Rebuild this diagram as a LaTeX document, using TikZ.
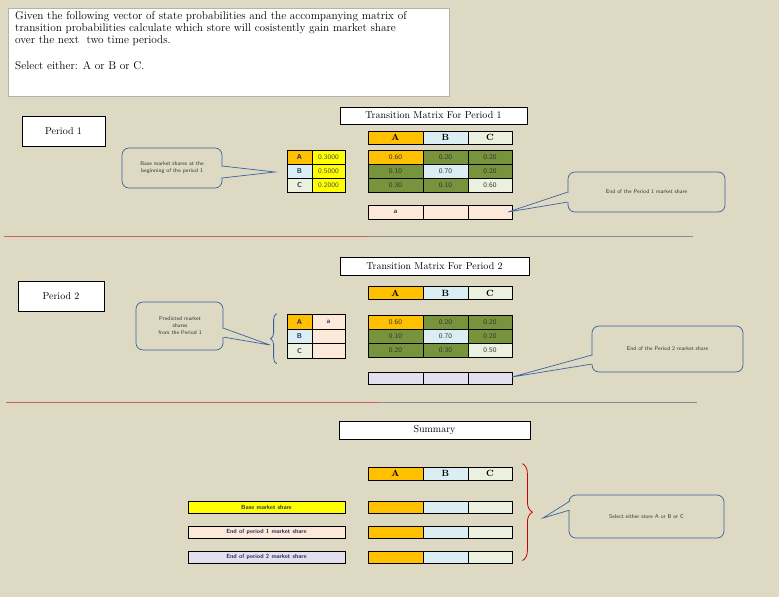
\documentclass[tikz,border=0pt]{standalone}
\usepackage{tikz}
\usetikzlibrary{decorations.pathreplacing}
\definecolor{bg}{HTML}{DDD9C3}
\definecolor{orng}{HTML}{FFC000}
\definecolor{ltblue}{HTML}{DAEEF3}
\definecolor{ltgreen}{HTML}{EBF1DE}
\definecolor{grn}{HTML}{77933C}
\definecolor{yell}{HTML}{FFFF00}
\definecolor{peach}{HTML}{FDE9D9}
\definecolor{lav}{HTML}{E4DFEC}
\definecolor{calblue}{HTML}{3A63A0}
\definecolor{sepgray}{HTML}{8C8C8C}
\definecolor{sepred}{HTML}{D06060}
\definecolor{navy}{HTML}{1F2F5F}
\tikzset{
  cell/.style={draw=black, line width=0.8pt, minimum height=13pt, inner sep=0pt, font=\sffamily\bfseries\fontsize{7}{8}\selectfont, text=navy},
  num/.style={cell, minimum height=14pt, font=\sffamily\fontsize{7}{8}\selectfont, text=black!80},
  title/.style={draw=black, fill=white, inner sep=0pt, font=\fontsize{10}{11}\selectfont},
  hdr/.style={cell, font=\bfseries\fontsize{9}{10}\selectfont, text=black},
  note/.style={font=\sffamily\fontsize{5.5}{7}\selectfont, align=center, text=black!80},
  callout/.style={draw=calblue, fill=bg, line width=0.7pt}
}
\begin{document}
\begin{tikzpicture}[x=1pt, y=-1pt]
\fill[bg] (0,0) rectangle (779,597);
\useasboundingbox (0,0) rectangle (779,597);

% question
\node[draw=black!30, fill=white, minimum width=441pt, minimum height=88pt, anchor=north west] (quest) at (8,8) {};
\node[anchor=north west, align=left, inner sep=0pt, font=\fontsize{11.3}{12}\selectfont] (qtext) at (15,11)
 {Given the following vector of state probabilities and the accompanying matrix of\\
  transition probabilities calculate which store will cosistently gain market share\\
  over the next \ two time periods.\\[14pt]
  Select either: A or B or C.};

% periods and titles
\node[title, minimum width=83pt, minimum height=30pt] (per1) at (63.5,131) {Period 1};
\node[title, minimum width=86pt, minimum height=30pt] (per2) at (61,296) {Period 2};
\node[title, minimum width=187pt, minimum height=17pt] (tit1) at (433.5,115.5) {Transition Matrix For Period 1};
\node[title, minimum width=189pt, minimum height=18pt] (tit2) at (434.5,266) {Transition Matrix For Period 2};
\node[title, minimum width=191pt, minimum height=18pt] (summ) at (434.5,430) {Summary};

% headers
\foreach \n/\y in {h1/137.5, h2/293, h3/473.5}{
  \node[hdr, fill=orng, minimum width=55pt] (\n a) at (395.5,\y) {A};
  \node[hdr, fill=ltblue, minimum width=45pt] (\n b) at (445.5,\y) {B};
  \node[hdr, fill=ltgreen, minimum width=44pt] (\n c) at (490,\y) {C};
}

% transition matrices
\foreach \m/\y/\r in {m1/150/{0.60,0.20,0.20,0.10,0.70,0.20,0.30,0.10,0.60},
                      m2/315/{0.60,0.20,0.20,0.10,0.70,0.20,0.20,0.30,0.50}}{
  \foreach [count=\k from 0] \v in \r {
    \pgfmathtruncatemacro{\row}{int(\k/3)}
    \pgfmathtruncatemacro{\col}{mod(\k,3)}
    \pgfmathsetmacro{\xx}{\col==0 ? 395.5 : (\col==1 ? 445.5 : 490)}
    \pgfmathsetmacro{\ww}{\col==0 ? 55 : (\col==1 ? 45 : 44)}
    \pgfmathtruncatemacro{\kind}{\row==\col ? \col : 3}
    \ifcase\kind \def\fc{orng}\or \def\fc{ltblue}\or \def\fc{ltgreen}\else \def\fc{grn}\fi
    \node[num, fill=\fc, minimum width=\ww pt] (\m-\k) at (\xx,\y+7+14*\row) {\v};
  }
}

% state vectors
\foreach \l/\f/\v/\i in {A/orng/0.3000/0, B/ltblue/0.5000/1, C/ltgreen/0.2000/2}{
  \node[cell, fill=\f, minimum width=25pt, minimum height=14pt] (v1\l) at (299.5,157+14*\i) {\l};
  \node[num, fill=yell, minimum width=33pt, text=black!70] (w1\l) at (328.5,157+14*\i) {\v};
  \node[cell, fill=\f, minimum width=25pt, minimum height=14.5pt] (v2\l) at (299.5,322+14.5*\i) {\l};
}
\node[cell, fill=peach, minimum width=33pt, minimum height=14.5pt] (w2A) at (328.5,322) {a};
\node[cell, fill=peach, minimum width=33pt, minimum height=14.5pt] (w2B) at (328.5,336.5) {};
\node[cell, fill=peach, minimum width=33pt, minimum height=14.5pt] (w2C) at (328.5,351) {};

% result rows
\node[cell, fill=peach, minimum width=55pt, minimum height=14pt] (r1a) at (395.5,212) {a};
\node[cell, fill=peach, minimum width=45pt, minimum height=14pt] (r1b) at (445.5,212) {};
\node[cell, fill=peach, minimum width=44pt, minimum height=14pt] (r1c) at (490,212) {};
\node[cell, fill=lav, minimum width=55pt, minimum height=12pt] (r2a) at (395.5,378) {};
\node[cell, fill=lav, minimum width=45pt, minimum height=12pt] (r2b) at (445.5,378) {};
\node[cell, fill=lav, minimum width=44pt, minimum height=12pt] (r2c) at (490,378) {};

% summary rows
\foreach \n/\y/\f/\t in {s1/507.5/yell/Base market share, s2/532/peach/End of period 1 market share, s3/557/lav/End of period 2 market share}{
  \node[cell, fill=\f, minimum width=157pt, minimum height=12pt, font=\sffamily\bfseries\fontsize{6}{7}\selectfont] (\n) at (266.5,\y) {\t};
  \node[cell, fill=orng, minimum width=55pt, minimum height=12pt] (\n a) at (395.5,\y) {};
  \node[cell, fill=ltblue, minimum width=45pt, minimum height=12pt] (\n b) at (445.5,\y) {};
  \node[cell, fill=ltgreen, minimum width=44pt, minimum height=12pt] (\n c) at (490,\y) {};
}

% separators
\draw[sepred, line width=1pt] (4,236) -- (370,236);
\draw[sepgray, line width=1pt] (370,236) -- (693,236);
\draw[sepred, line width=1pt] (6,402) -- (380,402);
\draw[sepgray, line width=1pt] (380,402) -- (697,402);

% callouts
\filldraw[callout, rounded corners=7pt] (122,148) rectangle (222,188);
\filldraw[callout] (222,166) -- (275,172) -- (222,178);
\fill[bg] (221,166.8) rectangle (223,177.2);
\node[note] (call1) at (172,168) {Base market shares at the\\beginning of the period 1};

\filldraw[callout, rounded corners=7pt] (568,172) rectangle (725,212);
\filldraw[callout] (568,192) -- (508,212) -- (568,202);
\fill[bg] (567,192.5) rectangle (569,201.5);
\node[note] (call2) at (646.5,192) {End of the Period 1 market share};

\filldraw[callout, rounded corners=7pt] (136,302) rectangle (223,350);
\filldraw[callout] (223,328) -- (270,345) -- (223,337);
\fill[bg] (222,328.5) rectangle (224,336.5);
\node[note] (call3) at (180,326) {Predicted market\\shares\\from the Period 1};

\filldraw[callout, rounded corners=7pt] (592,326) rectangle (743,372);
\filldraw[callout] (592,355) -- (512,377) -- (592,364);
\fill[bg] (591,355.5) rectangle (593,363.5);
\node[note] (call4) at (667.5,349) {End of the Period 2 market share};

\filldraw[callout, rounded corners=7pt] (569,495) rectangle (724,538);
\filldraw[callout] (570,501) -- (543,518) -- (570,510);
\fill[bg] (568.5,501.5) rectangle (571,509.5);
\node[note] (call5) at (646.5,517) {Select either store A or B or C};

% braces
\draw[calblue, line width=0.8pt, decorate, decoration={brace, amplitude=6pt}] (v2C.south west) ++(-10,5) -- ++(0,-50) coordinate (brtop);
\draw[red!80!black, line width=0.8pt, decorate, decoration={brace, amplitude=10pt}] (h3c.north east) ++(10,-3) -- ++(0,97) coordinate (brbot);
\end{tikzpicture}
\end{document}
